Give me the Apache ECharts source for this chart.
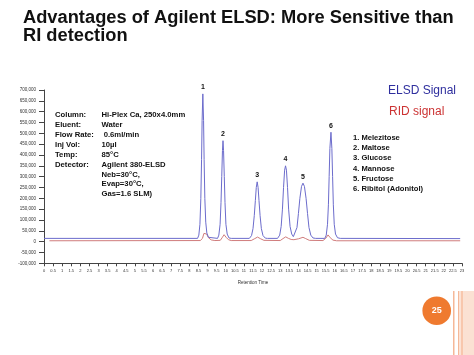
<!DOCTYPE html>
<html>
<head>
<meta charset="utf-8">
<script src="https://cdn.jsdelivr.net/npm/echarts@6/dist/echarts.min.js"></script>
<style>
html,body{margin:0;padding:0;background:#fff;}
#c{width:474px;height:355px;}
</style>
</head>
<body>
<div id="c"></div>
<script>
// ---- data ----
const titleLines = ['Advantages of Agilent ELSD: More Sensitive than', 'RI detection'];
const seriesNames = ['ELSD Signal', 'RID signal'];

// ELSD trace [retention time (min), signal]
const elsdSignal = [
  [0, 15000], [8.45, 15000], [8.52, 30000], [8.58, 80000], [8.63, 200000], [8.67, 380000], [8.70, 560000],
  [8.74, 682000], [8.78, 560000], [8.81, 380000], [8.85, 200000], [8.90, 90000], [8.96, 40000], [9.05, 20000],
  [9.15, 15000], [9.55, 15000], [9.62, 30000], [9.69, 80000], [9.74, 180000], [9.78, 300000], [9.82, 420000],
  [9.85, 466000], [9.88, 420000], [9.92, 300000], [9.96, 180000], [10.01, 80000], [10.08, 35000], [10.18, 17000],
  [10.3, 15000], [11.3, 15000], [11.42, 28000], [11.5, 60000], [11.57, 120000], [11.63, 190000], [11.68, 250000],
  [11.73, 276000], [11.78, 250000], [11.83, 190000], [11.89, 120000], [11.96, 60000], [12.05, 28000], [12.18, 16000],
  [12.3, 15000], [12.85, 15000], [12.97, 30000], [13.05, 70000], [13.12, 150000], [13.18, 250000], [13.24, 330000],
  [13.29, 350000], [13.34, 330000], [13.40, 250000], [13.46, 150000], [13.54, 70000], [13.63, 35000], [13.72, 23000],
  [13.82, 30000], [13.92, 65000], [14.0, 130000], [14.08, 200000], [14.17, 255000], [14.25, 270000], [14.33, 255000],
  [14.42, 200000], [14.5, 130000], [14.58, 65000], [14.68, 30000], [14.8, 17000], [14.95, 15000], [15.45, 15000],
  [15.53, 30000], [15.6, 80000], [15.65, 170000], [15.69, 300000], [15.73, 430000], [15.79, 505000], [15.84, 430000],
  [15.88, 300000], [15.92, 170000], [15.97, 80000], [16.04, 35000], [16.15, 18000], [16.3, 15000], [22.9, 14000]
];

// RID trace [retention time (min), signal]
const ridSignal = [
  [0.3, 4000], [8.6, 5000], [8.72, 15000], [8.8, 38000], [8.87, 45000], [8.95, 35000], [9.05, 18000], [9.2, 8000],
  [9.4, 5000], [9.7, 6000], [9.8, 18000], [9.91, 32000], [10.02, 20000], [10.15, 9000], [10.3, 5000],
  [11.4, 5000], [11.6, 14000], [11.75, 21000], [11.9, 14000], [12.1, 6000], [13.0, 5000], [13.15, 14000],
  [13.3, 22000], [13.45, 15000], [13.6, 10000], [13.75, 9000], [14.0, 13000], [14.25, 20000], [14.4, 14000],
  [14.6, 6000], [15.35, 5000], [15.5, 15000], [15.63, 31000], [15.75, 18000], [15.9, 7000], [16.1, 4000], [22.9, 4000]
];

// peak apex annotations
const peakLabels = ['1', '2', '3', '4', '5', '6'];
const peakTimes = [8.74, 9.85, 11.73, 13.29, 14.25, 15.79];
const peakHeights = [682000, 466000, 276000, 350000, 270000, 505000];

const compounds = ['1. Melezitose', '2. Maltose', '3. Glucose', '4. Mannose', '5. Fructose', '6. Ribitol (Adonitol)'];
const condLabels = ['Column:', 'Eluent:', 'Flow Rate:', 'Inj Vol:', 'Temp:', 'Detector:', '', '', ''];
const condValues = ['Hi-Plex Ca, 250x4.0mm', 'Water', ' 0.6ml/min', '10µl', '85°C', 'Agilent 380-ELSD', 'Neb=30°C,', 'Evap=30°C,', 'Gas=1.6 SLM)'];

const xAxisName = 'Retention Time';
const slideNumber = '25';

// ---- chart ----
const chart = echarts.init(document.getElementById('c'), null, {renderer: 'canvas'});
const FONT = 'Liberation Sans, Arial, sans-serif';

const graphics = [];
titleLines.forEach((t, i) => {
  graphics.push({type: 'text', left: 23, top: 9 + i * 17.7,
    style: {text: t, font: 'bold 18.3px ' + FONT, fill: '#111'}});
});
graphics.push({type: 'text', left: 388, top: 84.5, style: {text: seriesNames[0], font: '12px ' + FONT, fill: '#2f2f9e'}});
graphics.push({type: 'text', left: 389, top: 106, style: {text: seriesNames[1], font: '12px ' + FONT, fill: '#cc3333'}});
compounds.forEach((t, i) => {
  graphics.push({type: 'text', left: 353, top: 134 + i * 10.2, style: {text: t, font: 'bold 7.6px ' + FONT, fill: '#111'}});
});
condLabels.forEach((t, i) => {
  const y = 111 + i * 9.9;
  if (t) graphics.push({type: 'text', left: 55, top: y, style: {text: t, font: 'bold 7.7px ' + FONT, fill: '#111'}});
  graphics.push({type: 'text', left: 101.5, top: y, style: {text: condValues[i], font: 'bold 7.7px ' + FONT, fill: '#111'}});
});
// slide decoration
graphics.push({type: 'rect', shape: {x: 453, y: 291, width: 1.5, height: 64}, style: {fill: '#f5b898'}});
graphics.push({type: 'rect', shape: {x: 458, y: 291, width: 1.4, height: 64}, style: {fill: '#f5b898'}});
graphics.push({type: 'rect', shape: {x: 460.5, y: 291, width: 3, height: 64}, style: {fill: '#f8c7ad'}});
graphics.push({type: 'rect', shape: {x: 463.5, y: 291, width: 10.5, height: 64}, style: {fill: '#fbe1d3'}});
graphics.push({type: 'circle', shape: {cx: 436.7, cy: 310.7, r: 14.3}, style: {fill: '#ef7a2f'}});
graphics.push({type: 'text', x: 436.7, y: 310.7, style: {text: slideNumber, font: 'bold 9px ' + FONT, fill: '#fff', align: 'center', verticalAlign: 'middle'}});

chart.setOption({
  animation: false,
  backgroundColor: '#fff',
  textStyle: {fontFamily: FONT},
  grid: {left: 44, right: 12, top: 90, bottom: 91.7, containLabel: false},
  xAxis: {
    type: 'value', min: 0, max: 23, interval: 0.5,
    name: xAxisName, nameLocation: 'middle', nameGap: 17,
    nameTextStyle: {fontSize: 4.5, color: '#333'},
    axisLine: {onZero: false, lineStyle: {color: '#444', width: 1}},
    axisTick: {length: 3, lineStyle: {color: '#444'}},
    axisLabel: {fontSize: 4, color: '#333', margin: 6, hideOverlap: false},
    splitLine: {show: false}
  },
  yAxis: {
    type: 'value', min: -100000, max: 700000, interval: 50000,
    axisLine: {show: true, lineStyle: {color: '#444', width: 1}},
    axisTick: {show: true, length: 5, lineStyle: {color: '#444'}},
    axisLabel: {fontSize: 4.5, color: '#333', margin: 8},
    splitLine: {show: false}
  },
  series: [
    {
      name: seriesNames[1], type: 'line', data: ridSignal, showSymbol: false, symbol: 'none',
      lineStyle: {color: '#d07c7c', width: 1}, z: 2
    },
    {
      name: seriesNames[0], type: 'line', data: elsdSignal, showSymbol: false, symbol: 'none',
      lineStyle: {color: '#6c6ccc', width: 1}, z: 3,
      markPoint: {
        symbol: 'circle', symbolSize: 0,
        label: {show: true, position: 'top', distance: 3, fontSize: 7, fontWeight: 'bold', color: '#111',
          formatter: p => p.name},
        data: peakLabels.map((l, i) => ({name: l, coord: [peakTimes[i], peakHeights[i]]}))
      }
    }
  ],
  graphic: graphics
});
</script>
</body>
</html>
